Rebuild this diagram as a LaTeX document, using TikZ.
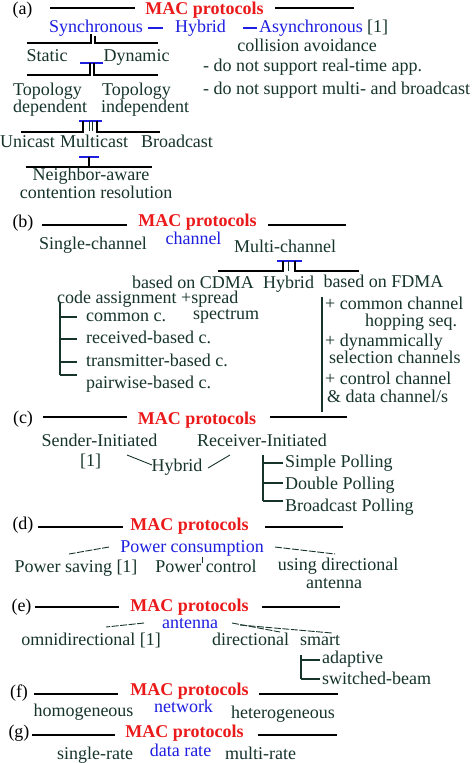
\documentclass[tikz,border=0pt]{standalone}
\usepackage{fontspec}
\setmainfont{Liberation Serif}
\definecolor{tc}{RGB}{22,52,44}
\definecolor{bc}{RGB}{30,30,225}
\definecolor{rc}{RGB}{235,25,25}
\begin{document}
\begin{tikzpicture}[x=1pt,y=-1pt,
  txt/.style={font=\fontsize{18}{16}\selectfont, text=tc, inner sep=0pt, text height=11pt, text depth=3pt},
  btxt/.style={txt, text=bc},
  mac/.style={txt, font=\fontsize{18}{16}\selectfont\bfseries, text=rc},
  lbl/.style={txt, text=black},
  hl/.style={line width=1.3pt, black},
  tl/.style={line width=1.2pt, tc},
  bbar/.style={line width=1.6pt, bc},
  thinl/.style={line width=0.9pt, tc},
  jag/.style={line width=0.9pt, tc, dash pattern=on 7pt off 1.5pt}]
\fill[white] (0,0) rectangle (474,763);
\useasboundingbox (0,0) rectangle (474,763);

% ---------------- (a)
\node[lbl] (la) at (22.5,10) {(a)};
\node[mac] (maca) at (204.5,10) {MAC protocols};
\coordinate (aL1) at (50,8); \coordinate (aL2) at (135,8);
\coordinate (aR1) at (275,8); \coordinate (aR2) at (354,8);
\draw[hl] (aL1) -- (aL2); \draw[hl] (aR1) -- (aR2);
\node[btxt] (syn) at (96,28) {Synchronous};
\node[btxt] (hyba) at (200.5,28) {Hybrid};
\node[btxt] (asyn) at (311,28) {Asynchronous};
\node[txt, anchor=west] (refa) at (367,28) {[1]};
\draw[line width=1.3pt, bc] ([xshift=5pt]syn.east) -- ([xshift=-12pt]hyba.west);
\draw[line width=1.3pt, bc] ([xshift=17pt]hyba.east) -- ([xshift=-2pt]asyn.west);
\node[txt] (coll) at (307,47) {collision avoidance};
\node[txt, anchor=west] (rt) at (203,67) {- do not support real-time app.};
\node[txt, anchor=west] (mb) at (203,90) {- do not support multi- and broadcast};

\draw[hl] (91,34) -- (91,43) -- (27,43);
\draw[hl] (95,36) -- (95,43) -- (158,43);
\node[txt] (stat) at (47,57) {Static};
\node[txt] (dyn) at (136.5,57) {Dynamic};
\draw[bbar] (80,63) -- (103,63);
\draw[hl] (90,63) -- (90,75) -- (27,75);
\draw[hl] (94,63) -- (94,75) -- (158,75);

\node[txt, anchor=west] (topd1) at (13,91) {Topology};
\node[txt, anchor=west] (topd2) at (13,108) {dependent};
\node[txt, anchor=west] (topi1) at (102,91) {Topology};
\node[txt, anchor=west] (topi2) at (101,108) {independent};
\draw[bbar] (79,121) -- (102,121);
\draw[hl] (83,121) -- (83,132) -- (21,132);
\draw[thinl] (89,121) -- (89,131);
\draw[thinl] (92,121) -- (92,131);
\draw[hl] (97,121) -- (97,132) -- (160,132);
\node[txt] (uni) at (27.5,143) {Unicast};
\node[txt] (multi) at (94,143) {Multicast};
\node[txt] (broad) at (177,143) {Broadcast};
\draw[bbar] (79,157) -- (99,157);
\draw[hl] (89,157) -- (89,167);
\draw[hl] (26,167) -- (152,167);
\node[txt] (nei1) at (91,176.5) {Neighbor-aware};
\node[txt] (nei2) at (96,194) {contention resolution};

% ---------------- (b)
\node[lbl] (lb) at (23,223) {(b)};
\node[mac] (macb) at (197.5,222) {MAC protocols};
\draw[hl] (42,225) -- (127,225);
\draw[hl] (268,225) -- (346,225);
\node[txt] (single) at (93,245) {Single-channel};
\node[btxt] (chan) at (193.5,240) {channel};
\node[txt] (mch) at (285,248) {Multi-channel};
\draw[bbar] (277,261) -- (302,261);
\draw[hl] (283,261) -- (283,271) -- (218,271);
\draw[thinl] (288,261) -- (288,271);
\draw[hl] (295,261) -- (295,271) -- (359,271);
\node[txt] (cdma) at (193,284) {based on CDMA};
\node[txt] (hybb) at (288.5,284) {Hybrid};
\node[txt] (fdma) at (383.5,283) {based on FDMA};
\node[txt, anchor=west] (code) at (57,299) {code assignment +spread};
\node[txt, anchor=west] (spec) at (193,315) {spectrum};
\draw[tl] (60,302) -- (60,375);
\foreach \yy in {317,339,362,375} \draw[tl] (60,\yy) -- (77,\yy);
\node[txt, anchor=west] (cc) at (86,317) {common c.};
\node[txt, anchor=west] (rc) at (86,339) {received-based c.};
\node[txt, anchor=west] (tc) at (86,362) {transmitter-based c.};
\node[txt, anchor=west] (pc) at (86,384) {pairwise-based c.};
\draw[tl] (322,297) -- (322,412);
\node[txt, anchor=west] (f1) at (325,305.5) {+ common channel};
\node[txt, anchor=west] (f1b) at (365,322) {hopping seq.};
\node[txt, anchor=west] (f2) at (325,342.5) {+ dynammically};
\node[txt, anchor=west] (f2b) at (329,359.5) {selection channels};
\node[txt, anchor=west] (f3) at (325,380) {+ control channel};
\node[txt, anchor=west] (f3b) at (327,398) {\& data channel/s};

% ---------------- (c)
\node[lbl] (lc) at (23,419) {(c)};
\node[mac] (macc) at (197,420) {MAC protocols};
\draw[hl] (43,417) -- (127,417);
\draw[hl] (270,417) -- (347,417);
\node[txt] (send) at (99.5,442) {Sender-Initiated};
\node[txt] (refc) at (90.5,462) {[1]};
\node[txt] (recv) at (262,442) {Receiver-Initiated};
\node[txt] (hybc) at (177,467) {Hybrid};
\draw[thinl] (127,455) -- (152,465);
\draw[thinl] (208,468) -- (230,455);
\draw[tl] (263,455) -- (263,501);
\foreach \yy in {463,483,501} \draw[tl] (263,\yy) -- (283,\yy);
\node[txt, anchor=west] (sp) at (285,463) {Simple Polling};
\node[txt, anchor=west] (dp) at (285,485) {Double Polling};
\node[txt, anchor=west] (bp) at (285,507) {Broadcast Polling};

% ---------------- (d)
\node[lbl] (ld) at (23,525) {(d)};
\node[mac] (macd) at (189.5,526) {MAC protocols};
\draw[hl] (38,527) -- (123,527);
\draw[hl] (265,527) -- (343,527);
\node[btxt] (pow) at (192,548) {Power consumption};
\draw[jag] (109,547) -- (69,554);
\draw[jag] (275,547) -- (335,554);
\node[txt] (psave) at (76,568) {Power saving [1]};
\node[txt] (pctrl) at (206,568) {Power control};
\draw[thinl] (202,557) -- (202,563);
\node[txt] (udir1) at (338,566.5) {using directional};
\node[txt] (udir2) at (334,584) {antenna};

% ---------------- (e)
\node[lbl] (le) at (21.5,607) {(e)};
\node[mac] (mace) at (189.5,607) {MAC protocols};
\draw[hl] (35,607) -- (119,607);
\draw[hl] (262,607) -- (340,607);
\node[btxt] (ant) at (190,624) {antenna};
\draw[jag] (144,623) -- (106,627);
\draw[jag] (232,623) -- (280,632);
\draw[jag] (240,625) -- (332,633);
\node[txt] (omni) at (91,641) {omnidirectional [1]};
\node[txt] (dir) at (250.5,641) {directional};
\node[txt] (smart) at (320,641) {smart};
\draw[tl] (301,655) -- (301,679);
\foreach \yy in {660,679} \draw[tl] (301,\yy) -- (320,\yy);
\node[txt, anchor=west] (adap) at (322,659) {adaptive};
\node[txt, anchor=west] (swb) at (322,680) {switched-beam};

% ---------------- (f)
\node[lbl] (lf) at (19,693) {(f)};
\node[mac] (macf) at (189.5,691) {MAC protocols};
\draw[hl] (34,694) -- (118,694);
\draw[hl] (259,694) -- (338,694);
\node[txt] (homo) at (83.5,712) {homogeneous};
\node[btxt] (net) at (183.5,708) {network};
\node[txt] (hete) at (283,714) {heterogeneous};

% ---------------- (g)
\node[lbl] (lg) at (19,733) {(g)};
\node[mac] (macg) at (184.5,733) {MAC protocols};
\draw[hl] (32,735) -- (115,735);
\draw[hl] (258,735) -- (337,735);
\node[txt] (srate) at (95,755) {single-rate};
\node[btxt] (drate) at (180.5,752) {data rate};
\node[txt] (mrate) at (260.5,755) {multi-rate};
\end{tikzpicture}
\end{document}
